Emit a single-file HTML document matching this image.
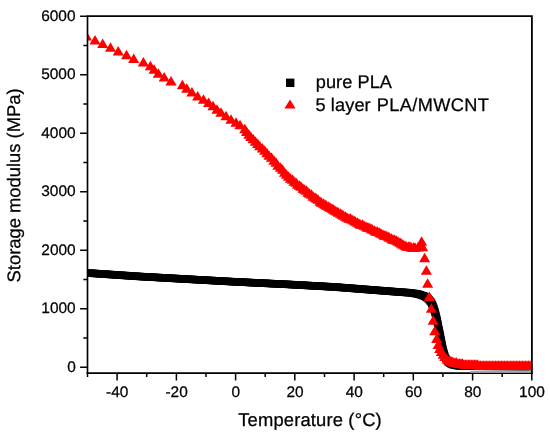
<!DOCTYPE html>
<html><head><meta charset="utf-8"><title>Storage modulus vs temperature</title>
<style>html,body{margin:0;padding:0;background:#fff}body{width:550px;height:434px;overflow:hidden}</style></head>
<body>
<svg width="550" height="434" viewBox="0 0 550 434" style="display:block">
<rect width="550" height="434" fill="#fff"/>
<defs><clipPath id="c"><rect x="87.5" y="16.1" width="444.29999999999995" height="357.0"/></clipPath></defs>
<g clip-path="url(#c)">
<g fill="#000"><rect x="84.30" y="269.30" width="7.4" height="7.4"/><rect x="85.80" y="269.40" width="7.4" height="7.4"/><rect x="87.29" y="269.50" width="7.4" height="7.4"/><rect x="88.79" y="269.60" width="7.4" height="7.4"/><rect x="90.29" y="269.70" width="7.4" height="7.4"/><rect x="91.78" y="269.80" width="7.4" height="7.4"/><rect x="93.28" y="269.90" width="7.4" height="7.4"/><rect x="94.78" y="270.01" width="7.4" height="7.4"/><rect x="96.27" y="270.11" width="7.4" height="7.4"/><rect x="97.77" y="270.21" width="7.4" height="7.4"/><rect x="99.27" y="270.31" width="7.4" height="7.4"/><rect x="100.76" y="270.41" width="7.4" height="7.4"/><rect x="102.26" y="270.51" width="7.4" height="7.4"/><rect x="103.76" y="270.61" width="7.4" height="7.4"/><rect x="105.25" y="270.71" width="7.4" height="7.4"/><rect x="106.75" y="270.81" width="7.4" height="7.4"/><rect x="108.25" y="270.91" width="7.4" height="7.4"/><rect x="109.74" y="271.01" width="7.4" height="7.4"/><rect x="111.24" y="271.11" width="7.4" height="7.4"/><rect x="112.74" y="271.21" width="7.4" height="7.4"/><rect x="114.23" y="271.31" width="7.4" height="7.4"/><rect x="115.73" y="271.42" width="7.4" height="7.4"/><rect x="117.23" y="271.52" width="7.4" height="7.4"/><rect x="118.72" y="271.62" width="7.4" height="7.4"/><rect x="120.22" y="271.72" width="7.4" height="7.4"/><rect x="121.72" y="271.82" width="7.4" height="7.4"/><rect x="123.21" y="271.92" width="7.4" height="7.4"/><rect x="124.71" y="272.02" width="7.4" height="7.4"/><rect x="126.21" y="272.12" width="7.4" height="7.4"/><rect x="127.70" y="272.22" width="7.4" height="7.4"/><rect x="129.20" y="272.32" width="7.4" height="7.4"/><rect x="130.70" y="272.42" width="7.4" height="7.4"/><rect x="132.19" y="272.52" width="7.4" height="7.4"/><rect x="133.69" y="272.62" width="7.4" height="7.4"/><rect x="135.18" y="272.72" width="7.4" height="7.4"/><rect x="136.68" y="272.82" width="7.4" height="7.4"/><rect x="138.18" y="272.91" width="7.4" height="7.4"/><rect x="139.68" y="272.99" width="7.4" height="7.4"/><rect x="141.17" y="273.07" width="7.4" height="7.4"/><rect x="142.67" y="273.16" width="7.4" height="7.4"/><rect x="144.17" y="273.24" width="7.4" height="7.4"/><rect x="145.67" y="273.32" width="7.4" height="7.4"/><rect x="147.17" y="273.41" width="7.4" height="7.4"/><rect x="148.66" y="273.49" width="7.4" height="7.4"/><rect x="150.16" y="273.58" width="7.4" height="7.4"/><rect x="151.66" y="273.66" width="7.4" height="7.4"/><rect x="153.16" y="273.74" width="7.4" height="7.4"/><rect x="154.65" y="273.83" width="7.4" height="7.4"/><rect x="156.15" y="273.91" width="7.4" height="7.4"/><rect x="157.65" y="274.00" width="7.4" height="7.4"/><rect x="159.15" y="274.08" width="7.4" height="7.4"/><rect x="160.64" y="274.16" width="7.4" height="7.4"/><rect x="162.14" y="274.25" width="7.4" height="7.4"/><rect x="163.64" y="274.33" width="7.4" height="7.4"/><rect x="165.14" y="274.41" width="7.4" height="7.4"/><rect x="166.63" y="274.50" width="7.4" height="7.4"/><rect x="168.13" y="274.58" width="7.4" height="7.4"/><rect x="169.63" y="274.67" width="7.4" height="7.4"/><rect x="171.13" y="274.75" width="7.4" height="7.4"/><rect x="172.63" y="274.83" width="7.4" height="7.4"/><rect x="174.12" y="274.92" width="7.4" height="7.4"/><rect x="175.62" y="275.00" width="7.4" height="7.4"/><rect x="177.12" y="275.09" width="7.4" height="7.4"/><rect x="178.62" y="275.17" width="7.4" height="7.4"/><rect x="180.11" y="275.25" width="7.4" height="7.4"/><rect x="181.61" y="275.34" width="7.4" height="7.4"/><rect x="183.11" y="275.42" width="7.4" height="7.4"/><rect x="184.61" y="275.51" width="7.4" height="7.4"/><rect x="186.10" y="275.59" width="7.4" height="7.4"/><rect x="187.60" y="275.67" width="7.4" height="7.4"/><rect x="189.10" y="275.76" width="7.4" height="7.4"/><rect x="190.60" y="275.84" width="7.4" height="7.4"/><rect x="192.10" y="275.92" width="7.4" height="7.4"/><rect x="193.59" y="276.01" width="7.4" height="7.4"/><rect x="195.09" y="276.09" width="7.4" height="7.4"/><rect x="196.59" y="276.17" width="7.4" height="7.4"/><rect x="198.09" y="276.25" width="7.4" height="7.4"/><rect x="199.58" y="276.34" width="7.4" height="7.4"/><rect x="201.08" y="276.42" width="7.4" height="7.4"/><rect x="202.58" y="276.50" width="7.4" height="7.4"/><rect x="204.08" y="276.59" width="7.4" height="7.4"/><rect x="205.57" y="276.67" width="7.4" height="7.4"/><rect x="207.07" y="276.75" width="7.4" height="7.4"/><rect x="208.57" y="276.84" width="7.4" height="7.4"/><rect x="210.07" y="276.92" width="7.4" height="7.4"/><rect x="211.57" y="277.00" width="7.4" height="7.4"/><rect x="213.06" y="277.09" width="7.4" height="7.4"/><rect x="214.56" y="277.17" width="7.4" height="7.4"/><rect x="216.06" y="277.25" width="7.4" height="7.4"/><rect x="217.56" y="277.34" width="7.4" height="7.4"/><rect x="219.05" y="277.42" width="7.4" height="7.4"/><rect x="220.55" y="277.50" width="7.4" height="7.4"/><rect x="222.05" y="277.59" width="7.4" height="7.4"/><rect x="223.55" y="277.67" width="7.4" height="7.4"/><rect x="225.04" y="277.75" width="7.4" height="7.4"/><rect x="226.54" y="277.84" width="7.4" height="7.4"/><rect x="228.04" y="277.92" width="7.4" height="7.4"/><rect x="229.54" y="278.00" width="7.4" height="7.4"/><rect x="231.04" y="278.09" width="7.4" height="7.4"/><rect x="232.53" y="278.16" width="7.4" height="7.4"/><rect x="234.03" y="278.23" width="7.4" height="7.4"/><rect x="235.53" y="278.31" width="7.4" height="7.4"/><rect x="237.03" y="278.38" width="7.4" height="7.4"/><rect x="238.53" y="278.45" width="7.4" height="7.4"/><rect x="240.02" y="278.53" width="7.4" height="7.4"/><rect x="241.52" y="278.60" width="7.4" height="7.4"/><rect x="243.02" y="278.68" width="7.4" height="7.4"/><rect x="244.52" y="278.75" width="7.4" height="7.4"/><rect x="246.02" y="278.82" width="7.4" height="7.4"/><rect x="247.52" y="278.90" width="7.4" height="7.4"/><rect x="249.01" y="278.97" width="7.4" height="7.4"/><rect x="250.51" y="279.04" width="7.4" height="7.4"/><rect x="252.01" y="279.12" width="7.4" height="7.4"/><rect x="253.51" y="279.19" width="7.4" height="7.4"/><rect x="255.01" y="279.26" width="7.4" height="7.4"/><rect x="256.50" y="279.34" width="7.4" height="7.4"/><rect x="258.00" y="279.41" width="7.4" height="7.4"/><rect x="259.50" y="279.48" width="7.4" height="7.4"/><rect x="261.00" y="279.56" width="7.4" height="7.4"/><rect x="262.50" y="279.63" width="7.4" height="7.4"/><rect x="264.00" y="279.71" width="7.4" height="7.4"/><rect x="265.49" y="279.78" width="7.4" height="7.4"/><rect x="266.99" y="279.85" width="7.4" height="7.4"/><rect x="268.49" y="279.93" width="7.4" height="7.4"/><rect x="269.99" y="280.00" width="7.4" height="7.4"/><rect x="271.49" y="280.07" width="7.4" height="7.4"/><rect x="272.98" y="280.15" width="7.4" height="7.4"/><rect x="274.48" y="280.22" width="7.4" height="7.4"/><rect x="275.98" y="280.29" width="7.4" height="7.4"/><rect x="277.48" y="280.37" width="7.4" height="7.4"/><rect x="278.98" y="280.44" width="7.4" height="7.4"/><rect x="280.48" y="280.51" width="7.4" height="7.4"/><rect x="281.97" y="280.59" width="7.4" height="7.4"/><rect x="283.47" y="280.66" width="7.4" height="7.4"/><rect x="284.97" y="280.73" width="7.4" height="7.4"/><rect x="286.47" y="280.81" width="7.4" height="7.4"/><rect x="287.97" y="280.89" width="7.4" height="7.4"/><rect x="289.46" y="280.98" width="7.4" height="7.4"/><rect x="290.96" y="281.06" width="7.4" height="7.4"/><rect x="292.46" y="281.14" width="7.4" height="7.4"/><rect x="293.96" y="281.23" width="7.4" height="7.4"/><rect x="295.45" y="281.31" width="7.4" height="7.4"/><rect x="296.95" y="281.39" width="7.4" height="7.4"/><rect x="298.45" y="281.47" width="7.4" height="7.4"/><rect x="299.95" y="281.56" width="7.4" height="7.4"/><rect x="301.45" y="281.64" width="7.4" height="7.4"/><rect x="302.94" y="281.72" width="7.4" height="7.4"/><rect x="304.44" y="281.81" width="7.4" height="7.4"/><rect x="305.94" y="281.89" width="7.4" height="7.4"/><rect x="307.44" y="281.97" width="7.4" height="7.4"/><rect x="308.93" y="282.06" width="7.4" height="7.4"/><rect x="310.43" y="282.14" width="7.4" height="7.4"/><rect x="311.93" y="282.22" width="7.4" height="7.4"/><rect x="313.43" y="282.31" width="7.4" height="7.4"/><rect x="314.92" y="282.39" width="7.4" height="7.4"/><rect x="316.42" y="282.47" width="7.4" height="7.4"/><rect x="317.92" y="282.56" width="7.4" height="7.4"/><rect x="319.42" y="282.64" width="7.4" height="7.4"/><rect x="320.92" y="282.72" width="7.4" height="7.4"/><rect x="322.41" y="282.81" width="7.4" height="7.4"/><rect x="323.91" y="282.89" width="7.4" height="7.4"/><rect x="325.41" y="282.97" width="7.4" height="7.4"/><rect x="326.91" y="283.06" width="7.4" height="7.4"/><rect x="328.40" y="283.14" width="7.4" height="7.4"/><rect x="329.90" y="283.22" width="7.4" height="7.4"/><rect x="331.40" y="283.31" width="7.4" height="7.4"/><rect x="332.89" y="283.42" width="7.4" height="7.4"/><rect x="334.39" y="283.54" width="7.4" height="7.4"/><rect x="335.88" y="283.66" width="7.4" height="7.4"/><rect x="337.38" y="283.78" width="7.4" height="7.4"/><rect x="338.88" y="283.89" width="7.4" height="7.4"/><rect x="340.37" y="284.01" width="7.4" height="7.4"/><rect x="341.87" y="284.13" width="7.4" height="7.4"/><rect x="343.36" y="284.24" width="7.4" height="7.4"/><rect x="344.86" y="284.36" width="7.4" height="7.4"/><rect x="346.35" y="284.48" width="7.4" height="7.4"/><rect x="347.85" y="284.59" width="7.4" height="7.4"/><rect x="349.34" y="284.71" width="7.4" height="7.4"/><rect x="350.84" y="284.83" width="7.4" height="7.4"/><rect x="352.33" y="284.94" width="7.4" height="7.4"/><rect x="353.83" y="285.06" width="7.4" height="7.4"/><rect x="355.33" y="285.18" width="7.4" height="7.4"/><rect x="356.82" y="285.30" width="7.4" height="7.4"/><rect x="358.32" y="285.41" width="7.4" height="7.4"/><rect x="359.81" y="285.53" width="7.4" height="7.4"/><rect x="361.31" y="285.65" width="7.4" height="7.4"/><rect x="362.80" y="285.76" width="7.4" height="7.4"/><rect x="364.30" y="285.88" width="7.4" height="7.4"/><rect x="365.79" y="286.00" width="7.4" height="7.4"/><rect x="367.29" y="286.11" width="7.4" height="7.4"/><rect x="368.78" y="286.23" width="7.4" height="7.4"/><rect x="370.28" y="286.35" width="7.4" height="7.4"/><rect x="371.78" y="286.46" width="7.4" height="7.4"/><rect x="373.27" y="286.58" width="7.4" height="7.4"/><rect x="374.77" y="286.70" width="7.4" height="7.4"/><rect x="376.26" y="286.82" width="7.4" height="7.4"/><rect x="377.76" y="286.93" width="7.4" height="7.4"/><rect x="379.25" y="287.05" width="7.4" height="7.4"/><rect x="380.75" y="287.17" width="7.4" height="7.4"/><rect x="382.24" y="287.28" width="7.4" height="7.4"/><rect x="383.74" y="287.40" width="7.4" height="7.4"/><rect x="385.23" y="287.52" width="7.4" height="7.4"/><rect x="386.73" y="287.63" width="7.4" height="7.4"/><rect x="388.23" y="287.74" width="7.4" height="7.4"/><rect x="389.72" y="287.86" width="7.4" height="7.4"/><rect x="391.22" y="287.97" width="7.4" height="7.4"/><rect x="392.71" y="288.08" width="7.4" height="7.4"/><rect x="394.21" y="288.19" width="7.4" height="7.4"/><rect x="395.70" y="288.31" width="7.4" height="7.4"/><rect x="397.20" y="288.42" width="7.4" height="7.4"/><rect x="398.70" y="288.53" width="7.4" height="7.4"/><rect x="400.19" y="288.64" width="7.4" height="7.4"/><rect x="401.69" y="288.75" width="7.4" height="7.4"/><rect x="403.18" y="288.87" width="7.4" height="7.4"/><rect x="404.68" y="288.98" width="7.4" height="7.4"/><rect x="406.18" y="289.09" width="7.4" height="7.4"/><rect x="407.66" y="289.30" width="7.4" height="7.4"/><rect x="409.14" y="289.53" width="7.4" height="7.4"/><rect x="410.63" y="289.75" width="7.4" height="7.4"/><rect x="412.11" y="289.97" width="7.4" height="7.4"/><rect x="413.59" y="290.19" width="7.4" height="7.4"/><rect x="415.05" y="290.55" width="7.4" height="7.4"/><rect x="416.47" y="291.02" width="7.4" height="7.4"/><rect x="417.89" y="291.50" width="7.4" height="7.4"/><rect x="419.31" y="291.97" width="7.4" height="7.4"/><rect x="420.69" y="292.54" width="7.4" height="7.4"/><rect x="421.96" y="293.34" width="7.4" height="7.4"/><rect x="423.23" y="294.13" width="7.4" height="7.4"/><rect x="424.46" y="294.99" width="7.4" height="7.4"/><rect x="425.43" y="296.12" width="7.4" height="7.4"/><rect x="426.41" y="297.26" width="7.4" height="7.4"/><rect x="427.36" y="298.42" width="7.4" height="7.4"/><rect x="428.03" y="299.76" width="7.4" height="7.4"/><rect x="428.70" y="301.10" width="7.4" height="7.4"/><rect x="429.35" y="302.45" width="7.4" height="7.4"/><rect x="429.83" y="303.88" width="7.4" height="7.4"/><rect x="430.30" y="305.30" width="7.4" height="7.4"/><rect x="430.77" y="306.72" width="7.4" height="7.4"/><rect x="431.25" y="308.15" width="7.4" height="7.4"/><rect x="431.62" y="309.60" width="7.4" height="7.4"/><rect x="431.99" y="311.05" width="7.4" height="7.4"/><rect x="432.35" y="312.51" width="7.4" height="7.4"/><rect x="432.72" y="313.96" width="7.4" height="7.4"/><rect x="433.08" y="315.42" width="7.4" height="7.4"/><rect x="433.42" y="316.88" width="7.4" height="7.4"/><rect x="433.71" y="318.35" width="7.4" height="7.4"/><rect x="434.00" y="319.82" width="7.4" height="7.4"/><rect x="434.30" y="321.29" width="7.4" height="7.4"/><rect x="434.59" y="322.76" width="7.4" height="7.4"/><rect x="434.89" y="324.23" width="7.4" height="7.4"/><rect x="435.18" y="325.71" width="7.4" height="7.4"/><rect x="435.48" y="327.18" width="7.4" height="7.4"/><rect x="435.77" y="328.65" width="7.4" height="7.4"/><rect x="436.06" y="330.12" width="7.4" height="7.4"/><rect x="436.36" y="331.59" width="7.4" height="7.4"/><rect x="436.65" y="333.06" width="7.4" height="7.4"/><rect x="436.95" y="334.53" width="7.4" height="7.4"/><rect x="437.24" y="336.00" width="7.4" height="7.4"/><rect x="437.53" y="337.47" width="7.4" height="7.4"/><rect x="437.83" y="338.94" width="7.4" height="7.4"/><rect x="438.12" y="340.41" width="7.4" height="7.4"/><rect x="438.42" y="341.88" width="7.4" height="7.4"/><rect x="438.71" y="343.36" width="7.4" height="7.4"/><rect x="439.01" y="344.83" width="7.4" height="7.4"/><rect x="439.30" y="346.30" width="7.4" height="7.4"/><rect x="439.71" y="347.74" width="7.4" height="7.4"/><rect x="440.12" y="349.18" width="7.4" height="7.4"/><rect x="440.54" y="350.62" width="7.4" height="7.4"/><rect x="440.95" y="352.07" width="7.4" height="7.4"/><rect x="441.41" y="353.49" width="7.4" height="7.4"/><rect x="442.18" y="354.77" width="7.4" height="7.4"/><rect x="442.96" y="356.06" width="7.4" height="7.4"/><rect x="443.73" y="357.34" width="7.4" height="7.4"/><rect x="444.63" y="358.50" width="7.4" height="7.4"/><rect x="445.90" y="359.30" width="7.4" height="7.4"/><rect x="447.17" y="360.09" width="7.4" height="7.4"/><rect x="448.47" y="360.84" width="7.4" height="7.4"/><rect x="449.93" y="361.15" width="7.4" height="7.4"/><rect x="451.40" y="361.47" width="7.4" height="7.4"/><rect x="452.86" y="361.79" width="7.4" height="7.4"/><rect x="454.33" y="362.10" width="7.4" height="7.4"/><rect x="455.83" y="362.16" width="7.4" height="7.4"/><rect x="457.33" y="362.23" width="7.4" height="7.4"/><rect x="458.83" y="362.29" width="7.4" height="7.4"/><rect x="460.32" y="362.35" width="7.4" height="7.4"/><rect x="461.82" y="362.41" width="7.4" height="7.4"/><rect x="463.32" y="362.48" width="7.4" height="7.4"/><rect x="464.82" y="362.54" width="7.4" height="7.4"/><rect x="466.32" y="362.60" width="7.4" height="7.4"/><rect x="467.82" y="362.60" width="7.4" height="7.4"/><rect x="469.32" y="362.61" width="7.4" height="7.4"/><rect x="470.82" y="362.61" width="7.4" height="7.4"/><rect x="472.32" y="362.62" width="7.4" height="7.4"/><rect x="473.82" y="362.62" width="7.4" height="7.4"/><rect x="475.32" y="362.63" width="7.4" height="7.4"/><rect x="476.82" y="362.63" width="7.4" height="7.4"/><rect x="478.32" y="362.64" width="7.4" height="7.4"/><rect x="479.82" y="362.64" width="7.4" height="7.4"/><rect x="481.32" y="362.65" width="7.4" height="7.4"/><rect x="482.82" y="362.65" width="7.4" height="7.4"/><rect x="484.32" y="362.66" width="7.4" height="7.4"/><rect x="485.82" y="362.66" width="7.4" height="7.4"/><rect x="487.32" y="362.67" width="7.4" height="7.4"/><rect x="488.82" y="362.67" width="7.4" height="7.4"/><rect x="490.32" y="362.68" width="7.4" height="7.4"/><rect x="491.82" y="362.68" width="7.4" height="7.4"/><rect x="493.32" y="362.69" width="7.4" height="7.4"/><rect x="494.82" y="362.69" width="7.4" height="7.4"/><rect x="496.32" y="362.70" width="7.4" height="7.4"/><rect x="497.82" y="362.70" width="7.4" height="7.4"/><rect x="499.32" y="362.71" width="7.4" height="7.4"/><rect x="500.82" y="362.71" width="7.4" height="7.4"/><rect x="502.32" y="362.72" width="7.4" height="7.4"/><rect x="503.82" y="362.72" width="7.4" height="7.4"/><rect x="505.32" y="362.73" width="7.4" height="7.4"/><rect x="506.82" y="362.73" width="7.4" height="7.4"/><rect x="508.32" y="362.74" width="7.4" height="7.4"/><rect x="509.82" y="362.74" width="7.4" height="7.4"/><rect x="511.32" y="362.75" width="7.4" height="7.4"/><rect x="512.82" y="362.75" width="7.4" height="7.4"/><rect x="514.32" y="362.76" width="7.4" height="7.4"/><rect x="515.82" y="362.76" width="7.4" height="7.4"/><rect x="517.32" y="362.77" width="7.4" height="7.4"/><rect x="518.82" y="362.77" width="7.4" height="7.4"/><rect x="520.32" y="362.78" width="7.4" height="7.4"/><rect x="521.82" y="362.78" width="7.4" height="7.4"/><rect x="523.32" y="362.79" width="7.4" height="7.4"/><rect x="524.82" y="362.79" width="7.4" height="7.4"/><rect x="526.32" y="362.80" width="7.4" height="7.4"/></g>
<g fill="#f00"><polygon points="86.4,30.9 80.9,40.4 92.0,40.4"/><polygon points="95.0,35.0 89.5,44.5 100.5,44.5"/><polygon points="102.7,38.5 97.2,48.0 108.2,48.0"/><polygon points="110.5,42.2 105.0,51.8 116.0,51.8"/><polygon points="118.2,46.1 112.7,55.6 123.8,55.6"/><polygon points="126.5,49.8 121.0,59.2 132.1,59.2"/><polygon points="133.7,53.5 128.1,63.0 139.2,63.0"/><polygon points="143.4,57.0 137.8,66.5 149.0,66.5"/><polygon points="150.4,60.8 144.8,70.3 156.0,70.3"/><polygon points="154.1,64.2 148.5,73.8 159.7,73.8"/><polygon points="158.4,68.3 152.8,77.8 164.0,77.8"/><polygon points="164.2,72.0 158.6,81.5 169.8,81.5"/><polygon points="171.0,76.0 165.4,85.5 176.6,85.5"/><polygon points="182.4,79.8 176.8,89.2 188.0,89.2"/><polygon points="186.8,83.2 181.2,92.8 192.4,92.8"/><polygon points="191.9,87.0 186.3,96.5 197.5,96.5"/><polygon points="197.7,91.0 192.1,100.5 203.2,100.5"/><polygon points="203.5,94.2 197.9,103.8 209.1,103.8"/><polygon points="208.6,97.5 203.0,107.0 214.2,107.0"/><polygon points="213.0,100.8 207.4,110.2 218.6,110.2"/><polygon points="217.0,104.2 211.4,113.7 222.6,113.7"/><polygon points="221.0,107.3 215.4,116.8 226.6,116.8"/><polygon points="226.0,110.8 220.4,120.2 231.6,120.2"/><polygon points="231.0,114.2 225.4,123.7 236.6,123.7"/><polygon points="236.0,117.3 230.4,126.8 241.6,126.8"/><polygon points="240.0,119.7 234.4,129.2 245.6,129.2"/><polygon points="244.8,123.8 239.2,133.2 250.4,133.2"/><polygon points="246.6,126.4 241.0,135.9 252.2,135.9"/><polygon points="248.9,129.2 243.3,138.8 254.5,138.8"/><polygon points="250.8,131.6 245.2,141.1 256.4,141.1"/><polygon points="253.1,133.8 247.5,143.3 258.6,143.3"/><polygon points="255.4,136.2 249.8,145.7 260.9,145.7"/><polygon points="257.7,138.4 252.1,147.9 263.2,147.9"/><polygon points="259.7,140.8 254.1,150.2 265.2,150.2"/><polygon points="262.3,143.1 256.8,152.6 267.9,152.6"/><polygon points="264.6,145.3 259.1,154.8 270.2,154.8"/><polygon points="266.9,147.8 261.3,157.2 272.4,157.2"/><polygon points="269.0,150.2 263.4,159.8 274.6,159.8"/><polygon points="271.5,152.2 265.9,161.8 277.1,161.8"/><polygon points="274.0,155.2 268.4,164.8 279.6,164.8"/><polygon points="276.0,157.2 270.4,166.8 281.6,166.8"/><polygon points="278.0,160.2 272.4,169.8 283.6,169.8"/><polygon points="280.5,162.2 274.9,171.8 286.1,171.8"/><polygon points="282.5,164.2 276.9,173.8 288.1,173.8"/><polygon points="284.5,167.2 278.9,176.8 290.1,176.8"/><polygon points="286.5,169.2 280.9,178.8 292.1,178.8"/><polygon points="288.5,171.2 282.9,180.8 294.1,180.8"/><polygon points="290.5,173.2 284.9,182.8 296.1,182.8"/><polygon points="292.5,174.2 286.9,183.8 298.1,183.8"/><polygon points="294.0,176.2 288.4,185.8 299.6,185.8"/><polygon points="296.0,177.2 290.4,186.8 301.6,186.8"/><polygon points="297.5,179.2 291.9,188.8 303.1,188.8"/><polygon points="299.5,180.2 293.9,189.8 305.1,189.8"/><polygon points="301.0,181.2 295.4,190.8 306.6,190.8"/><polygon points="303.0,183.2 297.4,192.8 308.6,192.8"/><polygon points="304.5,184.2 298.9,193.8 310.1,193.8"/><polygon points="306.5,185.2 300.9,194.8 312.1,194.8"/><polygon points="308.0,187.2 302.4,196.8 313.6,196.8"/><polygon points="309.5,188.2 303.9,197.8 315.1,197.8"/><polygon points="311.5,189.2 305.9,198.8 317.1,198.8"/><polygon points="313.0,191.2 307.4,200.8 318.6,200.8"/><polygon points="315.0,192.2 309.4,201.8 320.6,201.8"/><polygon points="316.5,193.2 310.9,202.8 322.1,202.8"/><polygon points="318.0,194.2 312.4,203.8 323.6,203.8"/><polygon points="320.0,196.2 314.4,205.8 325.6,205.8"/><polygon points="321.5,197.2 315.9,206.8 327.1,206.8"/><polygon points="323.5,198.2 317.9,207.8 329.1,207.8"/><polygon points="325.0,199.2 319.4,208.8 330.6,208.8"/><polygon points="326.5,200.2 320.9,209.8 332.1,209.8"/><polygon points="328.5,201.2 322.9,210.8 334.1,210.8"/><polygon points="330.0,202.2 324.4,211.8 335.6,211.8"/><polygon points="332.0,203.2 326.4,212.8 337.6,212.8"/><polygon points="333.5,204.2 327.9,213.8 339.1,213.8"/><polygon points="335.0,205.2 329.4,214.8 340.6,214.8"/><polygon points="337.0,206.2 331.4,215.8 342.6,215.8"/><polygon points="338.5,207.2 332.9,216.8 344.1,216.8"/><polygon points="340.5,208.2 334.9,217.8 346.1,217.8"/><polygon points="342.0,209.2 336.4,218.8 347.6,218.8"/><polygon points="343.5,210.2 337.9,219.8 349.1,219.8"/><polygon points="345.5,211.2 339.9,220.8 351.1,220.8"/><polygon points="347.0,212.2 341.4,221.8 352.6,221.8"/><polygon points="349.0,213.2 343.4,222.8 354.6,222.8"/><polygon points="350.5,213.2 344.9,222.8 356.1,222.8"/><polygon points="352.0,214.2 346.4,223.8 357.6,223.8"/><polygon points="354.0,215.2 348.4,224.8 359.6,224.8"/><polygon points="355.5,216.2 349.9,225.8 361.1,225.8"/><polygon points="357.5,217.2 351.9,226.8 363.1,226.8"/><polygon points="359.0,218.2 353.4,227.8 364.6,227.8"/><polygon points="360.5,219.2 354.9,228.8 366.1,228.8"/><polygon points="362.5,219.2 356.9,228.8 368.1,228.8"/><polygon points="364.0,220.2 358.4,229.8 369.6,229.8"/><polygon points="366.0,221.2 360.4,230.8 371.6,230.8"/><polygon points="367.5,222.2 361.9,231.8 373.1,231.8"/><polygon points="369.0,222.2 363.4,231.8 374.6,231.8"/><polygon points="371.0,223.2 365.4,232.8 376.6,232.8"/><polygon points="372.5,224.2 366.9,233.8 378.1,233.8"/><polygon points="374.5,225.2 368.9,234.8 380.1,234.8"/><polygon points="376.0,226.2 370.4,235.8 381.6,235.8"/><polygon points="377.5,226.2 371.9,235.8 383.1,235.8"/><polygon points="379.5,227.2 373.9,236.8 385.1,236.8"/><polygon points="381.0,228.2 375.4,237.8 386.6,237.8"/><polygon points="383.0,229.2 377.4,238.8 388.6,238.8"/><polygon points="384.5,230.2 378.9,239.8 390.1,239.8"/><polygon points="386.0,230.2 380.4,239.8 391.6,239.8"/><polygon points="388.0,231.2 382.4,240.8 393.6,240.8"/><polygon points="389.5,232.2 383.9,241.8 395.1,241.8"/><polygon points="391.5,233.2 385.9,242.8 397.1,242.8"/><polygon points="393.0,234.2 387.4,243.8 398.6,243.8"/><polygon points="394.5,234.2 388.9,243.8 400.1,243.8"/><polygon points="396.5,235.2 390.9,244.8 402.1,244.8"/><polygon points="398.0,236.2 392.4,245.8 403.6,245.8"/><polygon points="400.0,237.2 394.4,246.8 405.6,246.8"/><polygon points="401.5,238.2 395.9,247.8 407.1,247.8"/><polygon points="403.0,239.2 397.4,248.8 408.6,248.8"/><polygon points="405.0,240.2 399.4,249.8 410.6,249.8"/><polygon points="406.5,241.2 400.9,250.8 412.1,250.8"/><polygon points="408.5,241.2 402.9,250.8 414.1,250.8"/><polygon points="410.0,241.2 404.4,250.8 415.6,250.8"/><polygon points="411.5,242.2 405.9,251.8 417.1,251.8"/><polygon points="413.5,242.2 407.9,251.8 419.1,251.8"/><polygon points="415.0,242.2 409.4,251.8 420.6,251.8"/><polygon points="418.0,241.9 412.4,251.4 423.6,251.4"/><polygon points="419.6,241.4 414.1,250.9 425.2,250.9"/><polygon points="421.6,236.2 416.1,245.8 427.2,245.8"/><polygon points="422.7,241.8 417.1,251.3 428.2,251.3"/><polygon points="424.6,252.8 419.1,262.2 430.2,262.2"/><polygon points="426.4,265.2 420.8,274.8 431.9,274.8"/><polygon points="427.6,278.2 422.1,287.8 433.2,287.8"/><polygon points="429.4,291.6 423.8,301.1 434.9,301.1"/><polygon points="431.4,303.2 425.8,312.8 436.9,312.8"/><polygon points="433.2,315.2 427.6,324.8 438.8,324.8"/><polygon points="434.8,325.8 429.2,335.2 440.4,335.2"/><polygon points="436.6,333.6 431.1,343.1 442.2,343.1"/><polygon points="438.2,339.6 432.6,349.1 443.8,349.1"/><polygon points="439.6,343.6 434.1,353.1 445.2,353.1"/><polygon points="441.4,346.6 435.8,356.1 446.9,356.1"/><polygon points="443.1,349.2 437.6,358.8 448.7,358.8"/><polygon points="444.8,351.6 439.2,361.1 450.4,361.1"/><polygon points="447.1,353.9 441.6,363.4 452.7,363.4"/><polygon points="449.4,355.2 443.8,364.8 454.9,364.8"/><polygon points="451.0,356.2 445.4,365.8 456.6,365.8"/><polygon points="452.0,356.2 446.4,365.8 457.6,365.8"/><polygon points="453.5,357.2 447.9,366.8 459.1,366.8"/><polygon points="455.0,357.2 449.4,366.8 460.6,366.8"/><polygon points="456.5,357.2 450.9,366.8 462.1,366.8"/><polygon points="458.0,358.2 452.4,367.8 463.6,367.8"/><polygon points="459.5,358.2 453.9,367.8 465.1,367.8"/><polygon points="461.0,358.2 455.4,367.8 466.6,367.8"/><polygon points="462.5,358.2 456.9,367.8 468.1,367.8"/><polygon points="464.0,359.2 458.4,368.8 469.6,368.8"/><polygon points="465.5,359.2 459.9,368.8 471.1,368.8"/><polygon points="467.0,359.2 461.4,368.8 472.6,368.8"/><polygon points="468.5,359.2 462.9,368.8 474.1,368.8"/><polygon points="470.0,359.2 464.4,368.8 475.6,368.8"/><polygon points="471.5,359.2 465.9,368.8 477.1,368.8"/><polygon points="473.0,359.2 467.4,368.8 478.6,368.8"/><polygon points="474.5,359.2 468.9,368.8 480.1,368.8"/><polygon points="476.0,359.2 470.4,368.8 481.6,368.8"/><polygon points="477.5,359.2 471.9,368.8 483.1,368.8"/><polygon points="479.0,360.2 473.4,369.8 484.6,369.8"/><polygon points="480.5,360.2 474.9,369.8 486.1,369.8"/><polygon points="482.0,360.2 476.4,369.8 487.6,369.8"/><polygon points="483.5,360.2 477.9,369.8 489.1,369.8"/><polygon points="485.0,360.2 479.4,369.8 490.6,369.8"/><polygon points="486.5,360.2 480.9,369.8 492.1,369.8"/><polygon points="488.0,360.2 482.4,369.8 493.6,369.8"/><polygon points="489.5,360.2 483.9,369.8 495.1,369.8"/><polygon points="491.0,360.2 485.4,369.8 496.6,369.8"/><polygon points="492.5,360.2 486.9,369.8 498.1,369.8"/><polygon points="494.0,360.2 488.4,369.8 499.6,369.8"/><polygon points="495.5,360.2 489.9,369.8 501.1,369.8"/><polygon points="497.0,360.2 491.4,369.8 502.6,369.8"/><polygon points="498.5,360.2 492.9,369.8 504.1,369.8"/><polygon points="500.0,360.2 494.4,369.8 505.6,369.8"/><polygon points="501.5,360.2 495.9,369.8 507.1,369.8"/><polygon points="503.0,360.2 497.4,369.8 508.6,369.8"/><polygon points="504.5,360.2 498.9,369.8 510.1,369.8"/><polygon points="506.0,360.2 500.4,369.8 511.6,369.8"/><polygon points="507.5,360.2 501.9,369.8 513.0,369.8"/><polygon points="509.0,360.2 503.4,369.8 514.5,369.8"/><polygon points="510.5,360.2 504.9,369.8 516.0,369.8"/><polygon points="512.0,360.2 506.4,369.8 517.5,369.8"/><polygon points="513.5,360.2 507.9,369.8 519.0,369.8"/><polygon points="515.0,360.2 509.4,369.8 520.5,369.8"/><polygon points="516.5,360.2 510.9,369.8 522.0,369.8"/><polygon points="518.0,360.2 512.5,369.8 523.5,369.8"/><polygon points="519.5,360.2 514.0,369.8 525.0,369.8"/><polygon points="521.0,360.2 515.5,369.8 526.5,369.8"/><polygon points="522.5,360.2 517.0,369.8 528.0,369.8"/><polygon points="524.0,360.2 518.5,369.8 529.5,369.8"/><polygon points="525.5,360.2 520.0,369.8 531.0,369.8"/><polygon points="527.0,360.2 521.5,369.8 532.5,369.8"/><polygon points="528.5,360.2 523.0,369.8 534.0,369.8"/><polygon points="530.0,360.2 524.5,369.8 535.5,369.8"/><polygon points="531.5,360.2 526.0,369.8 537.0,369.8"/></g>
</g>
<path d="M87.5,373.90000000000003V16.1" stroke="#000" stroke-width="1.65" fill="none"/>
<path d="M86.7,373.1H532.5999999999999" stroke="#000" stroke-width="1.55" fill="none"/>
<path d="M86.7,16.200000000000003H531.9V373.90000000000003" stroke="#000" stroke-width="1.8" stroke-linejoin="miter" fill="none"/>
<rect x="470" y="370.85" width="60.9" height="1.95" fill="#a8a8a8"/>
<path d="M80.1,367.3H87.5M83.3,338.1H87.5M80.1,308.8H87.5M83.3,279.6H87.5M80.1,250.3H87.5M83.3,221.1H87.5M80.1,191.8H87.5M83.3,162.6H87.5M80.1,133.3H87.5M83.3,104.1H87.5M80.1,74.8H87.5M83.3,45.6H87.5M80.1,16.3H87.5M87.5,373.1V377.1M117.1,373.1V380.5M146.7,373.1V377.1M176.4,373.1V380.5M206.0,373.1V377.1M235.6,373.1V380.5M265.2,373.1V377.1M294.8,373.1V380.5M324.5,373.1V377.1M354.1,373.1V380.5M383.7,373.1V377.1M413.3,373.1V380.5M442.9,373.1V377.1M472.6,373.1V380.5M502.2,373.1V377.1M531.8,373.1V380.5" stroke="#000" stroke-width="1.5" fill="none"/>
<g font-family="'Liberation Sans',Arial,sans-serif" fill="#000" stroke="#000" stroke-width="0.25" transform="skewX(0.04)">
<g font-size="15.3" text-anchor="end">
<text x="75.5" y="371.8" textLength="8.59" lengthAdjust="spacingAndGlyphs">0</text>
<text x="75.5" y="313.3" textLength="34.37" lengthAdjust="spacingAndGlyphs">1000</text>
<text x="75.5" y="254.8" textLength="34.37" lengthAdjust="spacingAndGlyphs">2000</text>
<text x="75.5" y="196.3" textLength="34.37" lengthAdjust="spacingAndGlyphs">3000</text>
<text x="75.5" y="137.8" textLength="34.37" lengthAdjust="spacingAndGlyphs">4000</text>
<text x="75.5" y="79.3" textLength="34.37" lengthAdjust="spacingAndGlyphs">5000</text>
<text x="75.5" y="20.8" textLength="34.37" lengthAdjust="spacingAndGlyphs">6000</text>
</g>
<g font-size="15.3" text-anchor="middle">
<text x="117.0" y="397.3" textLength="22.33" lengthAdjust="spacingAndGlyphs">-40</text>
<text x="176.3" y="397.3" textLength="22.33" lengthAdjust="spacingAndGlyphs">-20</text>
<text x="235.5" y="397.3" textLength="8.59" lengthAdjust="spacingAndGlyphs">0</text>
<text x="294.7" y="397.3" textLength="17.18" lengthAdjust="spacingAndGlyphs">20</text>
<text x="354.0" y="397.3" textLength="17.18" lengthAdjust="spacingAndGlyphs">40</text>
<text x="413.2" y="397.3" textLength="17.18" lengthAdjust="spacingAndGlyphs">60</text>
<text x="472.5" y="397.3" textLength="17.18" lengthAdjust="spacingAndGlyphs">80</text>
<text x="531.7" y="397.3" textLength="25.78" lengthAdjust="spacingAndGlyphs">100</text>
</g>
<text font-size="18.4" x="237.9" y="425.7" textLength="143.5" lengthAdjust="spacing">Temperature (°C)</text>
<text font-size="18.4" transform="translate(20.0,282.4) rotate(-90)" textLength="194" lengthAdjust="spacing">Storage modulus (MPa)</text>
<text font-size="18.2" x="315.7" y="88.1" textLength="76.2" lengthAdjust="spacing">pure PLA</text>
<text font-size="18.2" y="111.0"><tspan x="315.4" textLength="55.2" lengthAdjust="spacing">5 layer</tspan><tspan x="376.8" textLength="112.1" lengthAdjust="spacing">PLA/MWCNT</tspan></text>
</g>
<rect x="286" y="78.6" width="8.4" height="8.4" fill="#000"/>
<polygon points="290,99.6 284.4,108.6 295.6,108.6" fill="#f00"/>
</svg>
</body></html>
